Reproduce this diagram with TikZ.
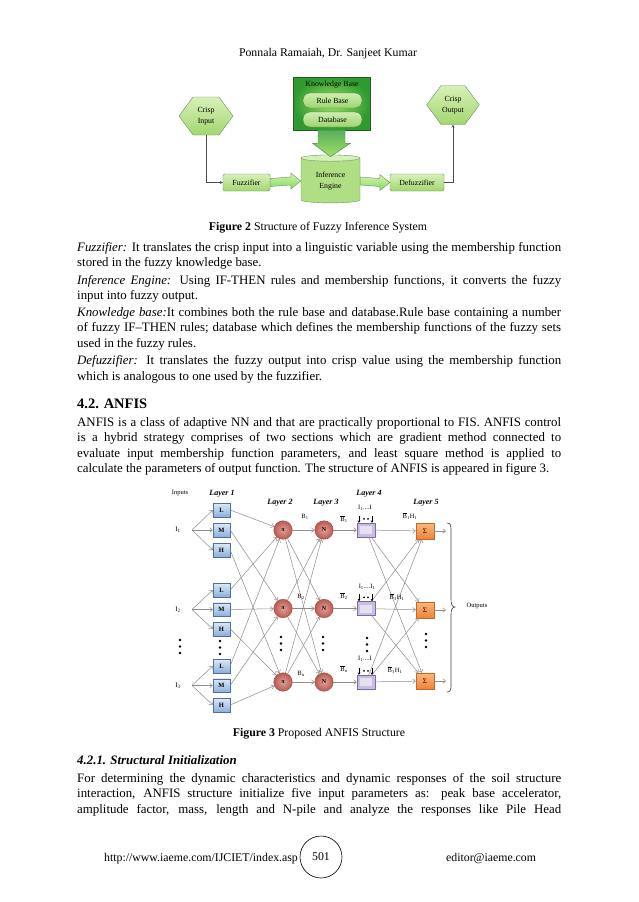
\documentclass[tikz,border=0pt]{standalone}
\usepackage{fontspec}
\setmainfont{Liberation Serif}
\usetikzlibrary{arrows.meta,shapes.geometric,shapes.symbols,shapes.misc,calc}
\newcommand{\bodyfs}{\fontsize{12.87}{15.5}\selectfont}
\newcommand{\capfs}{\fontsize{11.8}{14}\selectfont}
\newcommand{\figfs}{\fontsize{7.8}{10.5}\selectfont}
\newcommand{\anfs}{\fontsize{6.5}{8}\selectfont}
\newcommand{\jline}[1]{\makebox[484pt][s]{#1}}
\newcommand{\ob}{$\overline{\mbox{B}}$}
\definecolor{hexborder}{HTML}{6F8F5F}
\definecolor{lgtop}{HTML}{D8F0B8}
\definecolor{lgbot}{HTML}{A2D670}
\definecolor{kbin}{HTML}{9EE06A}
\definecolor{kbout}{HTML}{2F9A2F}
\definecolor{kbdraw}{HTML}{2A5A2A}
\definecolor{pilltop}{HTML}{CDEEB0}
\definecolor{pillbot}{HTML}{9ED470}
\definecolor{pilldraw}{HTML}{4F7F3F}
\definecolor{cylbody}{HTML}{B0DE84}
\definecolor{cylend}{HTML}{D6F0BB}
\definecolor{edgegray}{HTML}{8C8C8C}
\definecolor{mftop}{HTML}{DCE8F7}
\definecolor{mfbot}{HTML}{8DB0DC}
\definecolor{mfdraw}{HTML}{4F6F9F}
\definecolor{pilight}{HTML}{E2A09A}
\definecolor{pidark}{HTML}{B85A52}
\definecolor{pidraw}{HTML}{9A4A44}
\definecolor{lavfill}{HTML}{C9BEE0}
\definecolor{lavinner}{HTML}{E6E1F2}
\definecolor{lavdraw}{HTML}{7D69A8}
\definecolor{sgtop}{HTML}{FBB77A}
\definecolor{sgbot}{HTML}{EE8436}
\definecolor{sgdraw}{HTML}{C06A2A}
\tikzset{
  txt/.style={anchor=base west, inner sep=0pt, font=\bodyfs},
  hexa/.style={signal, signal to=east and west, signal pointer angle=107,
    minimum width=54pt, minimum height=38pt, inner sep=1pt, draw=hexborder,
    top color=lgtop, bottom color=lgbot, align=center, font=\figfs},
  gbox/.style={rectangle, rounded corners=1.5pt, draw=hexborder, top color=lgtop,
    bottom color=lgbot, minimum height=17pt, inner sep=1pt, font=\figfs},
  pill/.style={rectangle, rounded corners=7pt, draw=pilldraw, top color=pilltop,
    bottom color=pillbot, minimum width=59pt, minimum height=15pt, inner sep=0pt, font=\figfs},
  fat/.style={draw=hexborder, line width=0.4pt, top color=lgtop, bottom color=lgbot!80!green},
  thin/.style={draw=black!70, line width=0.5pt, -{Stealth[length=3pt,width=3pt]}},
  mfbox/.style={rectangle, draw=mfdraw, top color=mftop, bottom color=mfbot,
    minimum width=17pt, minimum height=13.5pt, inner sep=0pt, font=\bfseries\fontsize{6.5}{7}\selectfont},
  pinode/.style={circle, draw=pidraw, inner color=pilight, outer color=pidark,
    minimum size=18.5pt, inner sep=0pt, font=\bfseries\fontsize{6}{7}\selectfont},
  lavbox/.style={rectangle, draw=lavdraw, fill=lavfill, minimum width=18pt, minimum height=14pt,
    inner sep=0pt, path picture={\fill[lavinner] ($(path picture bounding box.south west)+(3pt,3pt)$)
      rectangle ($(path picture bounding box.north east)+(-3pt,-3pt)$);}},
  sgbox/.style={rectangle, draw=sgdraw, top color=sgtop, bottom color=sgbot,
    minimum width=18pt, minimum height=16pt, inner sep=0pt, font=\fontsize{7}{8}\selectfont},
  edge/.style={draw=edgegray, line width=0.5pt, -{Straight Barb[length=2.8pt,width=4.5pt]}},
  lbl/.style={inner sep=0pt, font=\anfs},
  layer/.style={inner sep=0pt, font=\bfseries\itshape\fontsize{8}{9}\selectfont},
  bigdot/.style={circle, fill=black, inner sep=0pt, minimum size=2.8pt},
}
\begin{document}
\begin{tikzpicture}[x=1pt,y=-1pt]
\useasboundingbox (0,0) rectangle (638,902);
\fill[white] (0,0) rectangle (638,902);

% header
\node[anchor=base, inner sep=0pt, font=\capfs] (hdr) at (328,56) {Ponnala Ramaiah, Dr. Sanjeet Kumar};

% ---------------- Figure 2 ----------------
\node[hexa] (ci) at (206,116) {Crisp\\Input};
\node[hexa, minimum width=50pt, minimum height=39pt] (co) at (453,105) {Crisp\\Output};
\node[rectangle, draw=kbdraw, inner color=kbin, outer color=kbout, minimum width=77pt,
  minimum height=53pt] (kb) at (331.5,103.5) {};
\node[inner sep=0pt, font=\figfs] (kbl) at (332,85) {Knowledge Base};
\node[pill] (rb) at (332.5,100.5) {Rule Base};
\node[pill] (db) at (332.5,119.5) {Database};
\node[cylinder, shape border rotate=90, aspect=0.2, minimum height=48pt, minimum width=59pt,
  draw=hexborder, cylinder uses custom fill, cylinder body fill=cylbody, cylinder end fill=cylend,
  align=center, font=\figfs, inner sep=1pt] (ie) at (330.5,181) {Inference\\Engine};
\node[gbox, minimum width=47pt] (fz) at (246.5,182.5) {Fuzzifier};
\node[gbox, minimum width=54pt] (dz) at (417,182.5) {Defuzzifier};
% big down arrow
\path[draw=kbdraw!80, line width=0.4pt, top color=kbout!80, bottom color=kbin]
  ($(kb.south)+(-13.5,0)$) -- ($(kb.south)+(13.5,0)$) -- ($(kb.south)+(13.5,13)$)
  -- ($(kb.south)+(19,13)$) -- ($(ie.north)+(0,2)$) -- ($(kb.south)+(-19,13)$)
  -- ($(kb.south)+(-13.5,13)$) -- cycle;
% fat arrows
\path[fat] ($(fz.east)+(0,-4)$) -- ($(ie.west)+(-10,-4)$) -- ($(ie.west)+(-10,-8)$) -- (ie.west)
  -- ($(ie.west)+(-10,8)$) -- ($(ie.west)+(-10,4)$) -- ($(fz.east)+(0,4)$) -- cycle;
\path[fat] ($(ie.east)+(0,-4)$) -- ($(dz.west)+(-10,-4)$) -- ($(dz.west)+(-10,-8)$) -- (dz.west)
  -- ($(dz.west)+(-10,8)$) -- ($(dz.west)+(-10,4)$) -- ($(ie.east)+(0,4)$) -- cycle;
\draw[thin] (ci.south) |- (fz.west);
\draw[thin] (dz.east) -| (co.south);

\node[anchor=base, inner sep=0pt, font=\capfs] (cap2) at (318,230) {\textbf{Figure 2} Structure of Fuzzy Inference System};

% ---------------- body text ----------------
\node[txt] (t1) at (77,251) {\jline{\textit{Fuzzifier:} It translates the crisp input into a linguistic variable using the membership function}};
\node[txt] (t2) at (77,266) {stored in the fuzzy knowledge base.};
\node[txt] (t3) at (77,284) {\jline{\textit{Inference Engine:} Using IF-THEN rules and membership functions, it converts the fuzzy}};
\node[txt] (t4) at (77,299) {input into fuzzy output.};
\node[txt] (t5) at (77,316) {\jline{\textit{Knowledge base:}It combines both the rule base and database.Rule base containing a number}};
\node[txt] (t6) at (77,331.5) {\jline{of fuzzy IF–THEN rules; database which defines the membership functions of the fuzzy sets}};
\node[txt] (t7) at (77,347) {used in the fuzzy rules.};
\node[txt] (t8) at (77,364.5) {\jline{\textit{Defuzzifier:} It translates the fuzzy output into crisp value using the membership function}};
\node[txt] (t9) at (77,380) {which is analogous to one used by the fuzzifier.};
\node[txt, font=\bfseries\fontsize{14.5}{16}\selectfont] (h42) at (77,408) {4.2. ANFIS};
\node[txt] (t10) at (77,426) {\jline{ANFIS is a class of adaptive NN and that are practically proportional to FIS. ANFIS control}};
\node[txt] (t11) at (77,441.5) {\jline{is a hybrid strategy comprises of two sections which are gradient method connected to}};
\node[txt] (t12) at (77,457) {\jline{evaluate input membership function parameters, and least square method is applied to}};
\node[txt] (t13) at (77,472) {calculate the parameters of output function. The structure of ANFIS is appeared in figure 3.};

% ---------------- Figure 3 ----------------
\node[lbl] (inp) at (180,493) {Inputs};
\node[layer] (ly1) at (222,494) {Layer 1};
\node[layer] (ly2) at (280,503) {Layer 2};
\node[layer] (ly3) at (326,503) {Layer 3};
\node[layer] (ly4) at (369,494) {Layer 4};
\node[layer] (ly5) at (426,503) {Layer 5};

\foreach \g/\yi/\ya/\yb/\yc in {1/530/510/530/550, 2/609.5/590/609.5/629, 3/685.5/666/685.5/705} {
  \node[lbl, font=\fontsize{7}{8}\selectfont] (i\g) at (178,\yi) {I\textsubscript{\g}};
  \coordinate (o\g) at (192,\yi);
  \node[mfbox] (b\g1) at (221.5,\ya) {L};
  \node[mfbox] (b\g2) at (221.5,\yb) {M};
  \node[mfbox] (b\g3) at (221.5,\yc) {H};
}
\foreach \k/\y/\ys in {1/530/531, 2/608.5/610, 3/682/681} {
  \node[pinode] (p\k) at (283,\y) {π};
  \node[pinode] (n\k) at (324,\y) {N};
  \node[lavbox] (q\k) at (366,\y) {};
  \node[sgbox] (s\k) at (425,\ys) {Σ};
  \coordinate (e\k) at (446,\ys);
}
\foreach \g in {1,2,3} {
  \foreach \k in {1,2,3} { \draw[edge] (o\g) -- (b\g\k.west); }
  \draw[edge] (b\g1.east) -- (p1);
  \draw[edge] (b\g2.east) -- (p2);
  \draw[edge] (b\g3.east) -- (p3);
}
\foreach \i in {1,2,3} {
  \foreach \j in {1,2,3} {
    \draw[edge] (p\i) -- (n\j);
    \draw[edge] (q\i) -- (s\j);
  }
  \draw[edge] (n\i) -- (q\i);
  \draw[edge] (s\i.east) -- (e\i);
}
% small arrows above layer-4 boxes
\foreach \k in {1,2,3} {
  \draw[black, line width=0.7pt, -{Stealth[length=2.5pt,width=2.8pt]}] ($(q\k.north)+(-7,-7)$) -- ($(q\k.north)+(-7,0)$);
  \draw[black, line width=0.7pt, -{Stealth[length=2.5pt,width=2.8pt]}] ($(q\k.north)+(6,-7)$) -- ($(q\k.north)+(6,0)$);
  \fill[black] ($(q\k.north)+(-2,-4)$) circle (1pt);
  \fill[black] ($(q\k.north)+(2,-4)$) circle (1pt);
}
% labels
\node[lbl] (lb1) at (305,517) {B\textsubscript{1}};
\node[lbl] (lc1) at (344,519) {\ob\textsubscript{1}};
\node[lbl] (ld1) at (365,508) {I\textsubscript{1}....I};
\node[lbl] (le1) at (410,516) {\ob\textsubscript{1}H\textsubscript{1}};
\node[lbl] (lb2) at (301,597) {B\textsubscript{2}};
\node[lbl] (lc2) at (344,596) {\ob\textsubscript{2}};
\node[lbl] (ld2) at (367,587) {I\textsubscript{1}....I\textsubscript{1}};
\node[lbl] (le2) at (397,597) {\ob\textsubscript{1}H\textsubscript{1}};
\node[lbl] (lb3) at (301,674) {B\textsubscript{n}};
\node[lbl] (lc3) at (344,669) {\ob\textsubscript{n}};
\node[lbl] (ld3) at (365,659) {I\textsubscript{1}....I};
\node[lbl] (le3) at (395,670) {\ob\textsubscript{1}H\textsubscript{1}};
% vertical dots
\foreach \x/\ya in {180/640, 220/641, 281/637, 323/637, 367/638, 426/634} {
  \node[bigdot] (d\x a) at (\x,\ya) {};
  \node[bigdot] (d\x b) at (\x,\ya+6.5) {};
  \node[bigdot] (d\x c) at (\x,\ya+13) {};
}
% brace and outputs
\draw[black!75, line width=0.6pt] (447,523) .. controls (451,523) and (451,526) .. (451,531)
  -- (451,599) .. controls (451,604) and (452,607) .. (455,607)
  .. controls (452,607) and (451,610) .. (451,615)
  -- (451,684) .. controls (451,689) and (451,692) .. (447,692);
\node[lbl] (outs) at (477,606) {Outputs};

\node[anchor=base, inner sep=0pt, font=\capfs] (cap3) at (319,736) {\textbf{Figure 3} Proposed ANFIS Structure};

% ---------------- section 4.2.1 ----------------
\node[txt, font=\bfseries\itshape\bodyfs] (h421) at (77,764.5) {4.2.1. Structural Initialization};
\node[txt] (t14) at (77,782) {\jline{For determining the dynamic characteristics and dynamic responses of the soil structure}};
\node[txt] (t15) at (77,797.5) {\jline{interaction, ANFIS structure initialize five input parameters as: peak base accelerator,}};
\node[txt] (t16) at (77,813) {\jline{amplitude factor, mass, length and N-pile and analyze the responses like Pile Head}};

% ---------------- footer ----------------
\node[anchor=base east, inner sep=0pt, font=\capfs] (url) at (298,861) {http://www.iaeme.com/IJCIET/index.asp};
\node[circle, draw=black, line width=0.6pt, minimum size=42pt, inner sep=0pt, font=\capfs] (pg) at (321,857) {501};
\node[anchor=base west, inner sep=0pt, font=\capfs] (mail) at (446,861) {editor@iaeme.com};
\end{tikzpicture}
\end{document}
